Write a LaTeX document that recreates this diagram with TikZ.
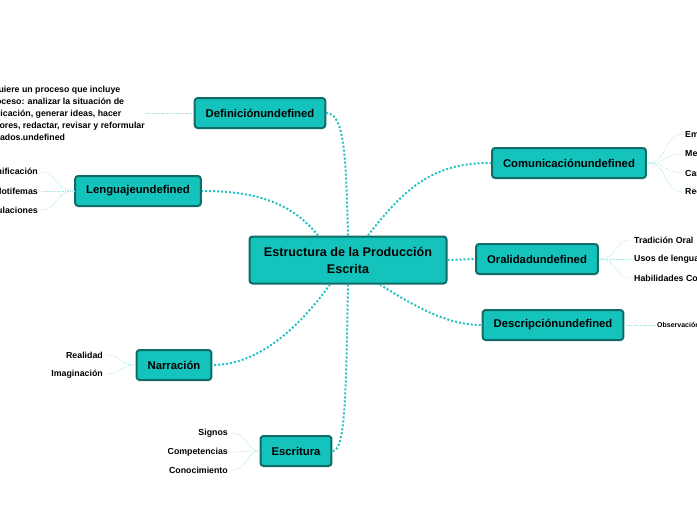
\documentclass[tikz,border=0pt]{standalone}
\usepackage{fontspec}
\setmainfont{Liberation Sans}
\usepackage{xcolor}
\usetikzlibrary{positioning}
\definecolor{boxfill}{HTML}{14C4BC}
\definecolor{boxline}{HTML}{0E6B66}
\definecolor{linkcol}{HTML}{22C2C2}
\definecolor{leafcol}{HTML}{9FE6E6}

\begin{document}
\begin{tikzpicture}[
                        x=1pt, y=-1pt,
                        topic/.style={
                                draw=boxline, fill=boxfill, line width=2pt,
                                rounded corners=3pt, font=\bfseries\fontsize{11.3}{13}\selectfont,
                                inner xsep=11pt, minimum height=30pt,
                            },
                        leaf/.style={
                                font=\bfseries\fontsize{8.8}{12}\selectfont, inner sep=1pt,
                            },
                        link/.style={linkcol, line width=2pt, dotted},
                        twig/.style={leafcol, line width=0.7pt, densely dotted},
                    ]

                    \useasboundingbox (0,0) rectangle (697,520);

                    % central topic
                    \node[topic, align=center, minimum width=197pt, minimum height=47pt,
                        font=\bfseries\fontsize{12.6}{17}\selectfont] (root) at (348,260)
                        {Estructura de la Producción\\Escrita};

                    % main topics
                    \node[topic] (defi) at (260,113) {Definiciónundefined};
                    \node[topic] (leng) at (138,191) {Lenguajeundefined};
                    \node[topic] (comu) at (569,163) {Comunicaciónundefined};
                    \node[topic] (oral) at (537,259) {Oralidadundefined};
                    \node[topic] (desc) at (553,325) {Descripciónundefined};
                    \node[topic] (narr) at (174,365) {Narración};
                    \node[topic] (escr) at (296,451) {Escritura};

                    \draw[link] (root.north) .. controls (346,160) and (345,113) .. (defi.east);
                    \draw[link] ([xshift=-30pt]root.north) .. controls (290,200) and (250,191) .. (leng.east);
                    \draw[link] ([xshift=20pt]root.north) .. controls (410,180) and (440,163) .. (comu.west);
                    \draw[link] (root.east) -- (oral.west);
                    \draw[link] ([xshift=32pt]root.south) .. controls (420,310) and (450,325) .. (desc.west);
                    \draw[link] ([xshift=-18pt]root.south) .. controls (290,340) and (250,365) .. (narr.east);
                    \draw[link] (root.south) .. controls (346,400) and (345,451) .. (escr.east);

                    % definition text
                    \node[leaf, align=left, anchor=east] (defitxt) at (146,113)
                        {Se requiere un proceso que incluye\\
                         subproceso: analizar la situación de\\
                         comunicación, generar ideas, hacer\\
                         borradores, redactar, revisar y reformular\\
                         enunciados.undefined};
                    \draw[twig] (defi.west) -- (defitxt.east);

                    % lenguaje
                    \node[leaf, anchor=east] (l1) at (39,172) {Significación};
                    \node[leaf, anchor=east] (l2) at (39,191) {Alotifemas};
                    \node[leaf, anchor=east] (l3) at (39,210) {Articulaciones};
                    \foreach \n/\y in {l1/172,l2/191,l3/210}{
                            \draw[twig] (leng.west) .. controls (55,191) and (58,\y) .. ([xshift=2pt]\n.east);
                        }

                    % comunicacion
                    \node[leaf, anchor=west] (c1) at (684,134) {Emisor};
                    \node[leaf, anchor=west] (c2) at (684,154) {Mensaje};
                    \node[leaf, anchor=west] (c3) at (684,173) {Canal};
                    \node[leaf, anchor=west] (c4) at (684,192) {Receptor};
                    \foreach \n/\y in {c1/134,c2/154,c3/173,c4/192}{
                            \draw[twig] (comu.east) .. controls (668,163) and (664,\y) .. ([xshift=-2pt]\n.west);
                        }

                    % oralidad
                    \node[leaf, anchor=west] (o1) at (633,240) {Tradición Oral};
                    \node[leaf, anchor=west] (o2) at (633,259) {Usos de lenguaje};
                    \node[leaf, anchor=west] (o3) at (633,278) {Habilidades Comunicativas};
                    \foreach \n/\y in {o1/240,o2/259,o3/278}{
                            \draw[twig] (oral.east) .. controls (618,259) and (614,\y) .. ([xshift=-2pt]\n.west);
                        }

                    % descripcion
                    \node[leaf, anchor=west, font=\bfseries\fontsize{7}{8}\selectfont] (d1) at (656,325) {Observación};
                    \draw[twig] (desc.east) -- (d1.west);

                    % narracion
                    \node[leaf, anchor=east] (n1) at (104,355) {Realidad};
                    \node[leaf, anchor=east] (n2) at (104,374) {Imaginación};
                    \foreach \n/\y in {n1/355,n2/374}{
                            \draw[twig] (narr.west) .. controls (120,365) and (122,\y) .. ([xshift=2pt]\n.east);
                        }

                    % escritura
                    \node[leaf, anchor=east] (e1) at (229,433) {Signos};
                    \node[leaf, anchor=east] (e2) at (229,452) {Competencias};
                    \node[leaf, anchor=east] (e3) at (229,470) {Conocimiento};
                    \foreach \n/\y in {e1/433,e2/452,e3/470}{
                            \draw[twig] (escr.west) .. controls (246,451) and (249,\y) .. ([xshift=2pt]\n.east);
                        }
                \end{tikzpicture}
\end{document}
